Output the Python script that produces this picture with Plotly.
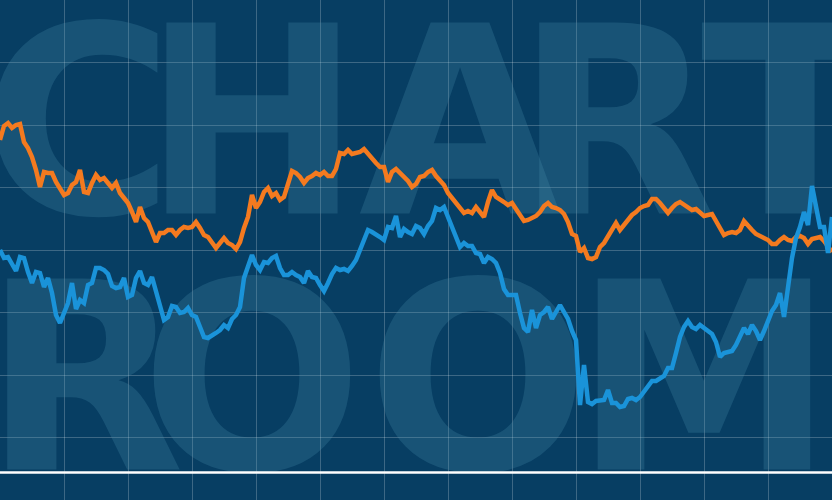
import plotly.graph_objects as go

# ---- data (index levels) ----
orange_values = [
    360, 374, 377, 372, 375, 376, 358, 352, 343, 330, 313, 328, 327, 327, 318, 312,
    305, 307, 315, 318, 330, 308, 307, 317, 325, 320, 322, 317, 312, 317, 307, 302,
    297, 288, 278, 293, 282, 278, 268, 258, 267, 267, 270, 270, 265, 270, 273, 272,
    273, 278, 272, 265, 263, 258, 252, 257, 262, 257, 255, 251, 258, 272, 283, 305,
    292, 298, 308, 312, 304, 307, 300, 303, 317, 329, 327, 323, 317, 322, 324, 327,
    325, 328, 324, 324, 331, 347, 346, 350, 346, 347, 348, 351, 346, 341, 337, 333,
    333, 318, 328, 331, 327, 322, 319, 313, 316, 323, 324, 328, 330, 324, 320, 315,
    307, 302, 298, 292, 287, 289, 287, 293, 287, 283, 298, 310, 303, 301, 298, 295,
    297, 291, 285, 279, 280, 282, 284, 288, 294, 297, 293, 292, 290, 286, 278, 266,
    264, 248, 252, 242, 241, 243, 253, 257, 264, 271, 277, 270, 275, 279, 285, 288,
    292, 294, 295, 301, 301, 297, 291, 287, 292, 296, 298, 295, 292, 290, 291, 287,
    284, 285, 286, 279, 271, 265, 267, 268, 267, 270, 279, 274, 270, 266, 264, 262,
    260, 256, 256, 260, 263, 260, 259, 263, 264, 262, 256, 261, 262, 263, 259, 254,
    248,
]

blue_values = [
    250, 242, 243, 237, 229, 243, 242, 228, 217, 228, 227, 213, 222, 207, 185, 177,
    188, 197, 217, 191, 200, 197, 215, 217, 232, 232, 230, 226, 214, 212, 213, 222,
    203, 205, 222, 229, 217, 215, 223, 208, 195, 180, 183, 194, 193, 187, 188, 192,
    185, 183, 173, 163, 162, 164, 167, 170, 175, 172, 181, 185, 193, 222, 232, 245,
    235, 230, 238, 237, 242, 244, 232, 225, 225, 228, 225, 223, 217, 229, 223, 222,
    215, 209, 217, 226, 232, 230, 231, 229, 234, 240, 250, 260, 270, 268, 266, 263,
    260, 273, 272, 284, 263, 271, 268, 266, 274, 272, 266, 274, 279, 292, 290, 293,
    283, 274, 263, 253, 257, 254, 254, 247, 246, 237, 243, 241, 237, 227, 211, 205,
    205, 205, 187, 172, 168, 190, 172, 185, 188, 193, 181, 187, 195, 188, 181, 169,
    160, 95, 135, 98, 96, 99, 100, 100, 110, 97, 97, 93, 94, 101, 102, 100,
    103, 108, 113, 119, 119, 122, 124, 132, 132, 147, 163, 173, 179, 173, 171, 175,
    172, 169, 166, 158, 143, 147, 148, 149, 155, 163, 172, 166, 175, 169, 160, 169,
    179, 189, 195, 207, 183, 214, 242, 262, 273, 288, 275, 314, 296, 273, 273, 247,
    283,
]

days = list(range(len(orange_values)))

# ---- decoration ----
BG = "#073e63"
ORANGE = "#f47a1f"
BLUE = "#1a93d9"
LETTER_COLOR = "rgba(80,150,180,0.24)"
letters = ["C", "H", "A", "R", "T", "R", "O", "O", "M"]
letter_x = [19.5, 63, 115, 154, 197.5, 21, 63, 119.5, 176]
letter_y = [352, 352, 352, 352, 352, 96, 96, 96, 96]
BASELINE = 27.5

fig = go.Figure()

fig.add_trace(go.Scatter(
    x=letter_x, y=letter_y, text=letters, mode="text",
    textposition="middle center",
    textfont=dict(family="DejaVu Sans", size=262, color=LETTER_COLOR, weight="bold"),
    hoverinfo="skip", showlegend=False,
))

fig.add_trace(go.Scatter(
    x=days, y=orange_values, mode="lines",
    line=dict(color=ORANGE, width=4.5), showlegend=False,
))
fig.add_trace(go.Scatter(
    x=days, y=blue_values, mode="lines",
    line=dict(color=BLUE, width=4.5), showlegend=False,
))

fig.add_shape(type="line", xref="paper", x0=0, x1=1, yref="y", y0=BASELINE, y1=BASELINE,
              line=dict(color="#ffffff", width=2.5), layer="above")

fig.update_layout(
    width=832, height=500,
    margin=dict(l=0, r=0, t=0, b=0),
    paper_bgcolor=BG, plot_bgcolor=BG,
    showlegend=False,
    xaxis=dict(range=[0, 208], dtick=16, tick0=0, showgrid=True,
               gridcolor="rgba(255,255,255,0.22)", gridwidth=1,
               zeroline=False, showticklabels=False, ticks="", showline=False),
    yaxis=dict(range=[0, 500], dtick=62.5, tick0=0, showgrid=True,
               gridcolor="rgba(255,255,255,0.22)", gridwidth=1,
               zeroline=False, showticklabels=False, ticks="", showline=False),
)

fig.write_html(
    "out.html",
    config={"displayModeBar": False},
    post_script="document.body.style.margin='0';document.body.style.overflow='hidden';",
)
